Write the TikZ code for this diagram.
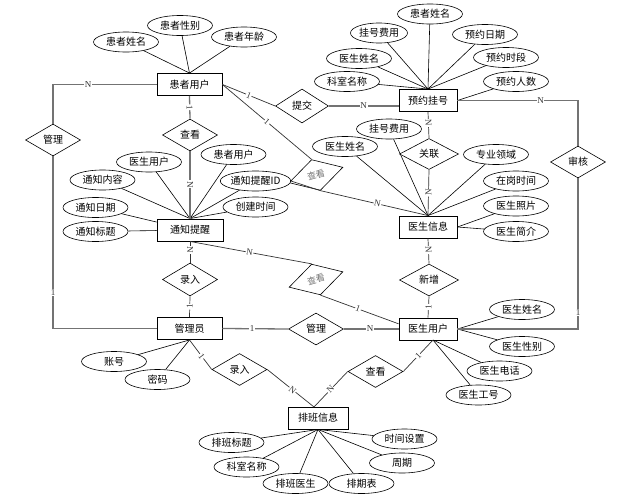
\documentclass[tikz,border=0pt]{standalone}
\usepackage{fontspec}
\setmainfont{Noto Sans CJK SC}
\newfontfamily\labfont{Liberation Serif}
\usetikzlibrary{shapes.geometric,calc}
\begin{document}
\begin{tikzpicture}[x=1pt,y=-1pt,
 ent/.style={draw,line width=0.9pt,fill=white,minimum height=22pt,inner sep=1pt,font=\fontsize{10}{12}\selectfont},
 attr/.style={draw,ellipse,line width=0.6pt,fill=white,minimum width=65pt,minimum height=20pt,inner sep=0pt,font=\fontsize{10}{12}\selectfont},
 rel/.style={draw,diamond,line width=0.6pt,fill=white,minimum width=55pt,minimum height=32pt,inner sep=0pt,font=\fontsize{10}{12}\selectfont},
 rrel/.style={rel,minimum width=56pt,rotate=16,text=black!55,font=\fontsize{9}{10}\selectfont},
 al/.style={line width=0.6pt},
 thk/.style={line width=1.3pt,draw=black!55},
 thn/.style={line width=0.7pt,draw=black!80},
 lab/.style={fill=white,inner sep=0.6pt,font=\labfont\fontsize{9}{10}\selectfont,text=black!80},
]
\useasboundingbox (0,0) rectangle (643,498);
% entities
\node[ent,minimum width=65pt] (hz) at (189.5,84.5) {患者用户};
\node[ent,minimum width=58pt] (yy) at (428,100.5) {预约挂号};
\node[ent,minimum width=58pt] (yx) at (428,227) {医生信息};
\node[ent,minimum width=66pt] (tz) at (190,230) {通知提醒};
\node[ent,minimum width=65pt] (gly) at (189.5,328.5) {管理员};
\node[ent,minimum width=58pt] (ys) at (428,329) {医生用户};
\node[ent,minimum width=60pt] (pb) at (318,418) {排班信息};
% relations
\node[rel] (ck1) at (190,135) {查看};
\node[rel] (gl1) at (53,140) {管理};
\node[rel,minimum width=53pt,minimum height=34pt] (tj) at (302,106) {提交};
\node[rel,minimum width=59pt,minimum height=31pt] (gx) at (429,154) {关联};
\node[rel] (sh) at (578,162) {审核};
\node[rrel] (ck2) at (316,175) {查看};
\node[rrel] (ck3) at (316,279.5) {查看};
\node[rel,minimum height=33pt] (lr1) at (190,279.5) {录入};
\node[rel,minimum width=59pt] (xz) at (429,280) {新增};
\node[rel] (gm) at (316,329) {管理};
\node[rel] (lr2) at (239.5,369.5) {录入};
\node[rel] (ck4) at (375.5,371.5) {查看};
% attributes
\node[attr] (hx1) at (126,42) {患者姓名};
\node[attr] (hx2) at (180,25.5) {患者性别};
\node[attr] (hx3) at (244,37) {患者年龄};
\node[attr] (ya1) at (430,14) {患者姓名};
\node[attr,minimum width=57pt] (ya2) at (379,33) {挂号费用};
\node[attr] (ya3) at (359,58.5) {医生姓名};
\node[attr] (ya4) at (347,81.5) {科室名称};
\node[attr] (ya5) at (485,34.5) {预约日期};
\node[attr] (ya6) at (506,57.5) {预约时段};
\node[attr] (ya7) at (516,81.5) {预约人数};
\node[attr] (yb1) at (389,129) {挂号费用};
\node[attr] (yb2) at (345,146.5) {医生姓名};
\node[attr] (yb3) at (496,154.5) {专业领域};
\node[attr] (yb4) at (516,181) {在岗时间};
\node[attr] (yb5) at (516,206) {医生照片};
\node[attr] (yb6) at (516,231.5) {医生简介};
\node[attr] (ta1) at (149,162) {医生用户};
\node[attr] (ta2) at (102.5,180) {通知内容};
\node[attr] (ta3) at (95.5,207.5) {通知日期};
\node[attr] (ta4) at (95.5,231.5) {通知标题};
\node[attr] (ta5) at (233.5,154.5) {患者用户};
\node[attr] (ta6) at (255.5,181) {通知提醒ID};
\node[attr] (ta7) at (255.5,207) {创建时间};
\node[attr] (za1) at (114,361.5) {账号};
\node[attr] (za2) at (157.5,379.5) {密码};
\node[attr] (yc1) at (522,309.5) {医生姓名};
\node[attr] (yc2) at (522,346.5) {医生性别};
\node[attr] (yc3) at (499.5,371) {医生电话};
\node[attr] (yc4) at (478.5,395) {医生工号};
\node[attr] (pa1) at (231.5,442.5) {排班标题};
\node[attr] (pa2) at (246.5,467) {科室名称};
\node[attr] (pa3) at (295.5,483.5) {排班医生};
\node[attr] (pa4) at (361.5,483.5) {排期表};
\node[attr] (pa5) at (402,463) {周期};
\node[attr] (pa6) at (404.5,439) {时间设置};
% helper coordinates
\coordinate (ysb) at (433,340);
\coordinate (pbt) at (314,407);
% attribute lines
\foreach \a in {hx1,hx2,hx3} \draw[al] (\a) -- (hz.north);
\foreach \a in {ya1,ya2,ya3,ya4,ya5,ya6} \draw[al] (\a) -- (yy.north);
\draw[al] (ya7) -- (yy.east);
\foreach \a in {yb1,yb2,yb3,yb4} \draw[al] (\a) -- (yx.north);
\foreach \a in {yb5,yb6} \draw[al] (\a) -- (yx.east);
\foreach \a in {ta1,ta2,ta5,ta6,ta7} \draw[al] (\a) -- (tz.north);
\foreach \a in {ta3,ta4} \draw[al] (\a) -- (tz);
\foreach \a in {za1,za2} \draw[al] (\a) -- (gly.south);
\foreach \a in {yc1,yc2} \draw[al] (\a) -- (ys.east);
\foreach \a in {yc3,yc4} \draw[al] (\a) -- (ysb);
\foreach \a in {pa1,pa2,pa3,pa4,pa5,pa6} \draw[al] (\a) -- (pb.south);
% relationship connectors
\draw[thk] (hz.west) -- node[lab,pos=0.66]{N} (gl1.north |- hz.west) -- (gl1.north);
\draw[thk] (gl1.south) -- node[lab,pos=0.79]{1} (gl1.south |- gly.west) -- (gly.west);
\draw[thk] (hz.south) -- node[lab,sloped]{1} (ck1.north);
\draw[thk] (ck1.south) -- node[lab,sloped,pos=0.49]{N} (tz.north);
\draw[thn] (hz.east) -- node[lab,sloped,pos=0.5]{1} (tj.west);
\draw[thk] (tj.east) -- node[lab,pos=0.5]{N} (tj.east -| yy.west);
\draw[thn] (hz.east) -- node[lab,sloped,pos=0.5]{1} (ck2.north);
\draw[thn] (ta6.east) -- (ck2.south) -- node[lab,sloped,pos=0.53]{N} (yx.north);
\draw[thn] (yy.south) -- node[lab,sloped,pos=0.42]{N} (gx.north);
\draw[thn] (gx.south) -- node[lab,sloped,pos=0.5]{N} (yx.north);
\draw[thk] (yy.east) -- node[lab,pos=0.69]{N} (yy.east -| sh.north) -- (sh.north);
\draw[thk] (sh.south) -- node[lab,pos=0.89]{1} (sh.south |- ys.east) -- (ys.east);
\draw[thn] (tz.south) -- node[lab,sloped,pos=0.4]{N} (lr1.north);
\draw[thn] (lr1.south) -- node[lab,sloped,pos=0.5]{1} (gly.north);
\draw[thn] (yx.south) -- node[lab,sloped,pos=0.46]{N} (xz.north);
\draw[thn] (xz.south) -- node[lab,sloped,pos=0.5]{1} (ys.north);
\draw[thn] (tz.south) -- node[lab,sloped,pos=0.49]{N} (ck3.north);
\draw[thn] (ck3.south) -- node[lab,sloped,pos=0.48]{1} (ys.170);
\draw[thk] (gly.east) -- node[lab,pos=0.45]{1} (gm.west);
\draw[thk] (gm.east) -- node[lab,pos=0.48]{N} (ys.west);
\draw[thn] (gly.south) -- node[lab,sloped,pos=0.55]{1} (lr2.west);
\draw[thn] (lr2.east) -- node[lab,sloped,pos=0.54]{N} (pbt);
\draw[thn] (ysb) -- node[lab,sloped,pos=0.5]{1} (ck4.east);
\draw[thn] (ck4.west) -- node[lab,sloped,pos=0.51]{N} (pbt);
\end{tikzpicture}
\end{document}
